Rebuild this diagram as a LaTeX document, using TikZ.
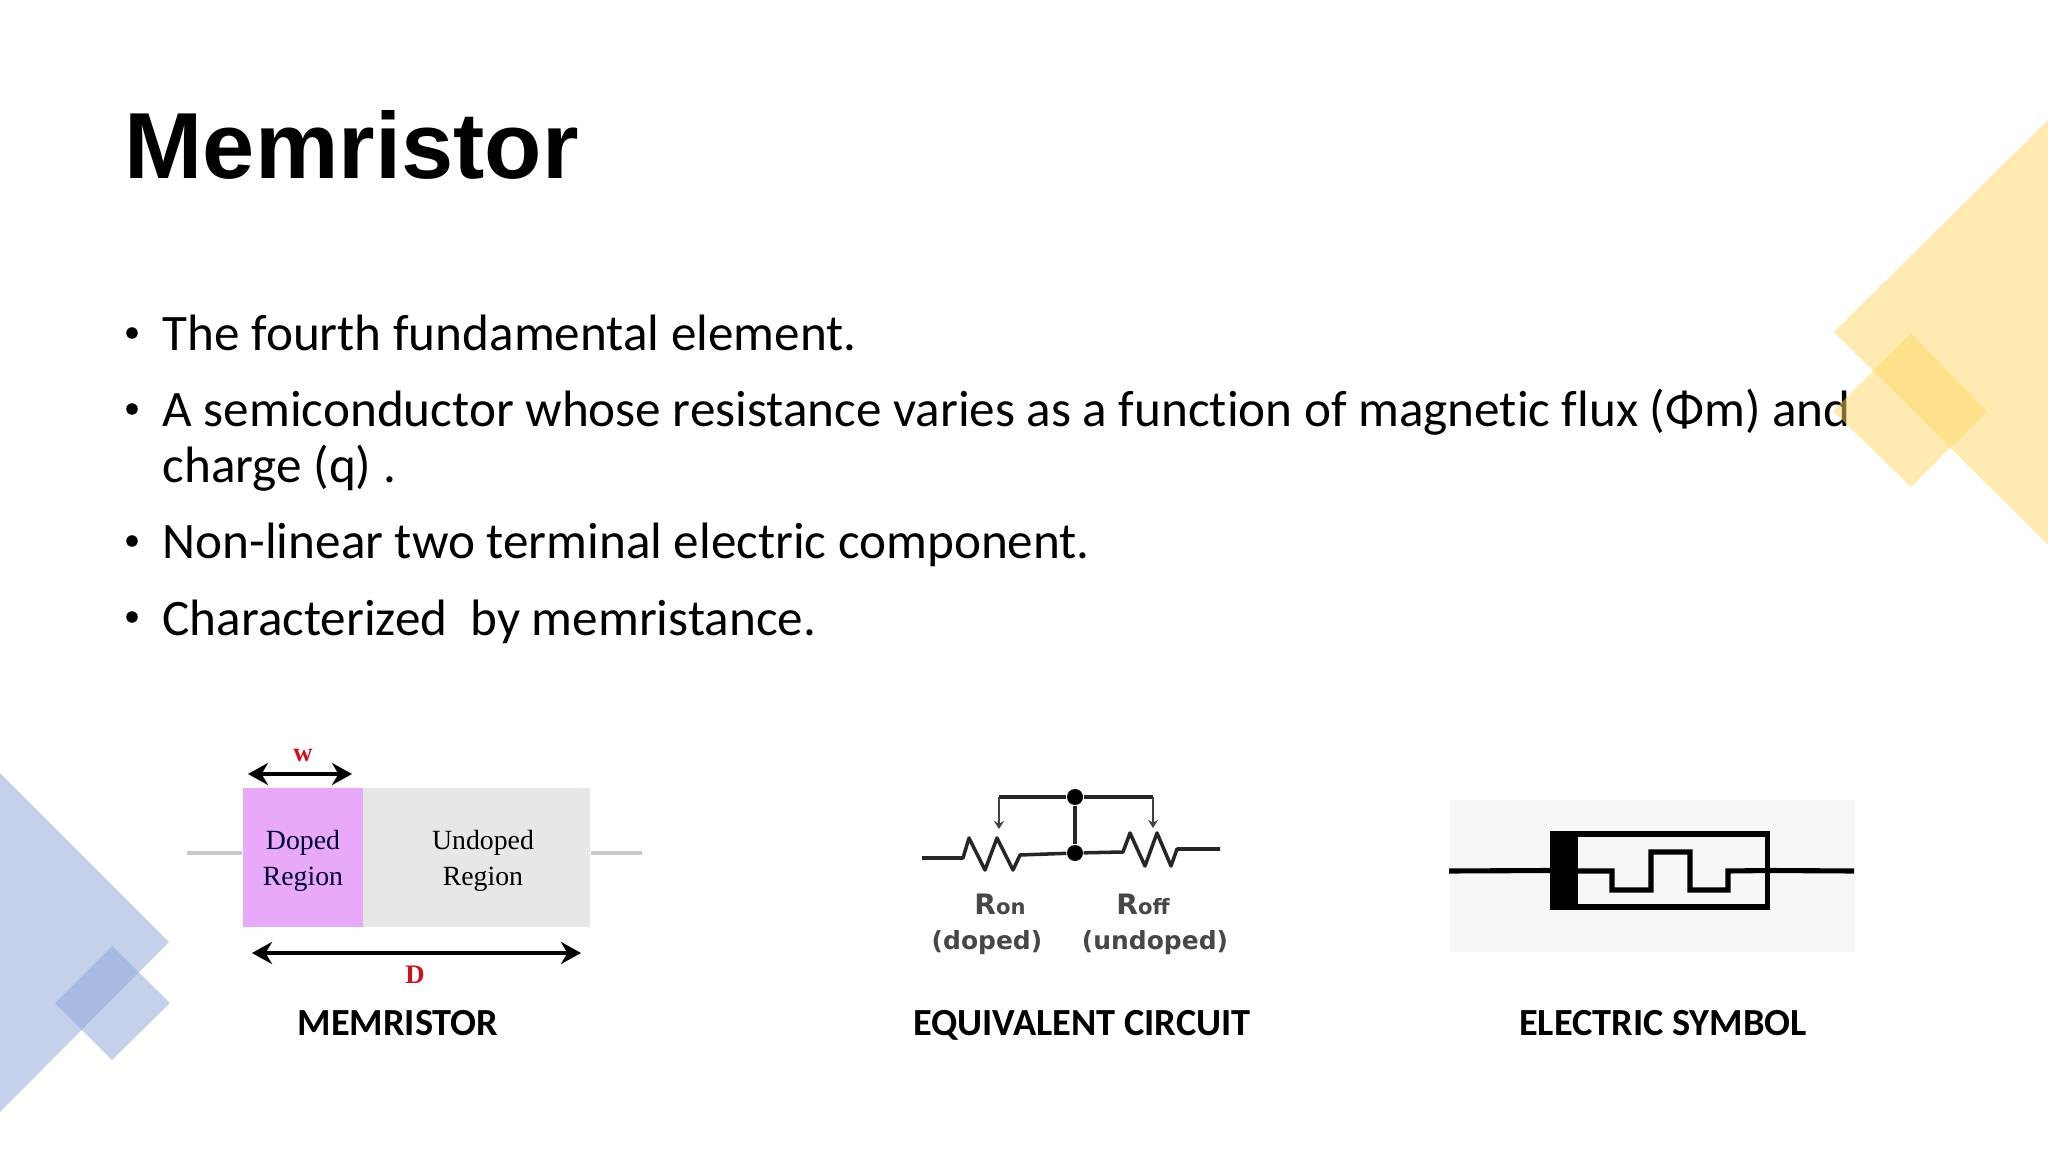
\documentclass[tikz,border=0pt]{standalone}
\usepackage{fontspec}
\setmainfont[Ligatures=NoCommon]{Carlito}
\newfontfamily\titlefont{Liberation Sans}
\newfontfamily\serfont{Liberation Serif}
\newfontfamily\dejafont{DejaVu Sans}
\usetikzlibrary{arrows.meta}
\definecolor{yellowdia}{HTML}{FFD966}
\definecolor{bluedia}{HTML}{8DA5D9}
\definecolor{dopedpink}{HTML}{E8A9FB}
\definecolor{undopedgray}{HTML}{E6E8E4}
\definecolor{leadgray}{HTML}{C8C8C8}
\definecolor{symbolback}{HTML}{F8F7F8}
\definecolor{figred}{HTML}{C8141E}
\tikzset{
  bullettext/.style={anchor=base west,inner sep=0pt,font=\fontsize{14.55}{17}\selectfont},
  bulletdot/.style={circle,fill=black,inner sep=0pt,minimum size=.115cm},
  caption/.style={anchor=base,inner sep=0pt,font=\fontsize{10.9}{12}\selectfont\bfseries},
  regiontext/.style={inner sep=0pt,align=center,font=\fontsize{7.9}{10.2}\selectfont\serfont},
  redtext/.style={inner sep=0pt,text=figred,font=\fontsize{7.6}{9}\selectfont\serfont\bfseries},
  circuittext/.style={inner sep=0pt,text=black!72,font=\fontsize{7.1}{8}\selectfont\dejafont\bfseries},
  measure/.style={line width=1pt,{Stealth[length=.2cm,width=.22cm]}-{Stealth[length=.2cm,width=.22cm]}},
  wire/.style={line width=1pt,black!85},
  symwire/.style={line width=1.45pt,black},
  junction/.style={circle,fill=black,inner sep=0pt,minimum size=.16cm},
  probe/.style={line width=.8pt,black!75,-{Stealth[length=.08cm,width=.1cm]}}
}
\begin{document}
\begin{tikzpicture}[x=.01cm,y=-.01cm]
\useasboundingbox (0,0) rectangle (2048,1152);
\fill[white] (0,0) rectangle (2048,1152);

\node[anchor=base west,inner sep=0pt,font=\fontsize{26.7}{30}\selectfont\titlefont\bfseries] (title) at (124,179) {Memristor};

\node[bulletdot] (dot1) at (132,333) {};
\node[bullettext] (line1) at (162,351) {The fourth fundamental element.};
\node[bulletdot] (dot2) at (132,409) {};
\node[bullettext] (line2) at (162,427) {A semiconductor whose resistance varies as a function of magnetic flux (Φm) and};
\node[bullettext] (line2b) at (162,483) {charge (q) .};
\node[bulletdot] (dot3) at (132,541) {};
\node[bullettext] (line3) at (162,559) {Non-linear two terminal electric component.};
\node[bulletdot] (dot4) at (132,617) {};
\node[bullettext] (line4) at (162,635) {Characterized\ \ by memristance.};

\fill[yellowdia,opacity=.5] (1834,332)--(2048,120)--(2048,545)--cycle;
\fill[yellowdia,opacity=.5] (1911,333)--(1987,411)--(1911,487)--(1833,411)--cycle;
\fill[bluedia,opacity=.5] (0,773)--(169,942)--(0,1112)--cycle;
\fill[bluedia,opacity=.5] (112,946)--(170,1003)--(112,1060)--(55,1003)--cycle;

\coordinate (leadL) at (187,853);
\coordinate (leadR) at (642,853);
\node[fill=dopedpink,inner sep=0pt,minimum width=1.2cm,minimum height=1.39cm] (doped) at (303,857.5) {};
\node[fill=undopedgray,inner sep=0pt,minimum width=2.27cm,minimum height=1.39cm] (undoped) at (476.5,857.5) {};
\draw[leadgray,line width=1pt] (leadL)--(doped.west |- leadL);
\draw[leadgray,line width=1pt] (undoped.east |- leadR)--(leadR);
\node[regiontext,text=black!80!blue] (dopedtext) at (303,861) {Doped\\Region};
\node[regiontext] (undopedtext) at (483,861) {Undoped\\Region};
\coordinate (wL) at (248,774);
\coordinate (wR) at (352,774);
\draw[measure] (wL)--(wR);
\node[redtext] (wtext) at (303,755) {w};
\coordinate (dL) at (252,953);
\coordinate (dR) at (581,953);
\draw[measure] (dL)--(dR);
\node[redtext] (dtext) at (415,975) {D};
\node[caption] (capmem) at (398,1035) {MEMRISTOR};

\node[junction] (top) at (1075,797) {};
\node[junction] (mid) at (1075,853) {};
\coordinate (wireL) at (999,797);
\coordinate (wireR) at (1153,797);
\coordinate (tipL) at (999,829);
\coordinate (tipR) at (1153,828);
\coordinate (endL) at (922,858);
\coordinate (endR) at (1220,849);
\draw[wire] (wireL)--(top)--(wireR);
\draw[wire] (top)--(mid);
\draw[probe] (wireL)--(tipL);
\draw[probe] (wireR)--(tipR);
\draw[wire,line join=round] (endL)--(963,858)--(969,838)--(985,870)--(997,838)--(1013,870)--(1020,855)--(mid);
\draw[wire,line join=round] (mid)--(1123,852)--(1130,833)--(1145,866)--(1157,833)--(1171,866)--(1177,849)--(endR);
\node[circuittext] (ron) at (1000,904) {\fontsize{8}{8}\selectfont R\fontsize{6}{8}\selectfont on};
\node[circuittext] (doped2) at (987,943) {(doped)};
\node[circuittext] (roff) at (1143,904) {\fontsize{8}{8}\selectfont R\fontsize{6}{8}\selectfont off};
\node[circuittext] (undoped2) at (1155,943) {(undoped)};
\node[caption] (capcir) at (1082,1035) {EQUIVALENT CIRCUIT};

\fill[symbolback] (1450,800) rectangle (1855,952);
\node[draw=black,symwire,inner sep=0pt,minimum width=2.14cm,minimum height=.73cm] (body) at (1660,870.5) {};
\fill[black] (body.north west) rectangle (1578,908);
\coordinate (symL) at (1449,871);
\coordinate (symR) at (1854,871);
\draw[symwire] (symL)--(body.west);
\draw[symwire] (body.east)--(symR);
\draw[symwire] (1577,871)--(1612,871)--(1612,890)--(1651,890)--(1651,852)--(1690,852)--(1690,890)--(1728,890)--(1728,871)--(body.east);
\node[caption] (capsym) at (1663,1035) {ELECTRIC SYMBOL};
\end{tikzpicture}
\end{document}
